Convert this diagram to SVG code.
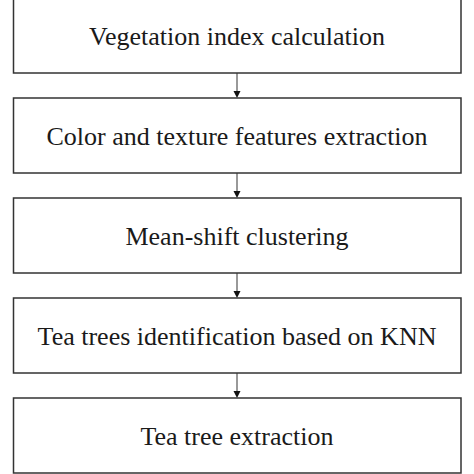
<svg xmlns="http://www.w3.org/2000/svg" width="474" height="474" viewBox="0 0 474 474">
<style>
.box{fill:#fff;stroke:#333;stroke-width:1.5}
.lbl{font-family:"Liberation Serif","Times New Roman",serif;font-size:26px;fill:#1a1a1a;text-anchor:middle}
.con{stroke:#555;stroke-width:1.2;fill:none}
.head{fill:#111}
</style>
<rect width="474" height="474" fill="#fff"/>
<g id="connectors">
<line class="con" x1="237" y1="73" x2="237" y2="92"/>
<polygon class="head" points="233.5,91 240.5,91 237,98"/>
<line class="con" x1="237" y1="173" x2="237" y2="192"/>
<polygon class="head" points="233.5,191 240.5,191 237,198"/>
<line class="con" x1="237" y1="273" x2="237" y2="292"/>
<polygon class="head" points="233.5,291 240.5,291 237,298"/>
<line class="con" x1="237" y1="373" x2="237" y2="392"/>
<polygon class="head" points="233.5,391 240.5,391 237,398"/>
</g>
<g id="n1"><rect class="box" x="13.5" y="-2" width="447.5" height="75"/><text class="lbl" x="237" y="45">Vegetation index calculation</text></g>
<g id="n2"><rect class="box" x="13.5" y="98" width="447.5" height="75"/><text class="lbl" x="237" y="145">Color and texture features extraction</text></g>
<g id="n3"><rect class="box" x="13.5" y="198" width="447.5" height="75"/><text class="lbl" x="237" y="245">Mean-shift clustering</text></g>
<g id="n4"><rect class="box" x="13.5" y="298" width="447.5" height="75"/><text class="lbl" x="237" y="345">Tea trees identification based on KNN</text></g>
<g id="n5"><rect class="box" x="13.5" y="398" width="447.5" height="75"/><text class="lbl" x="237" y="445">Tea tree extraction</text></g>
</svg>
